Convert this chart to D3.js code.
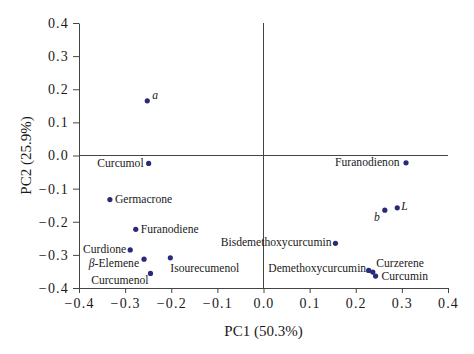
<!DOCTYPE html>
<html>
<head>
<meta charset="utf-8">
<script src="https://cdn.jsdelivr.net/npm/d3@7"></script>
<style>
  html, body { margin: 0; padding: 0; background: #fff; }
  svg { display: block; font-family: "Liberation Serif", "DejaVu Serif", serif; }
  .tick line, .domain { stroke: #444; }
  .pt-label { font-size: 11.6px; fill: #1a1a1a; }
  .axis-title { font-size: 15px; fill: #1a1a1a; }
</style>
</head>
<body>
<svg id="chart" width="474" height="354"></svg>
<script>
// ---- data ----
const names = ["a", "Curcumol", "Furanodienon", "Germacrone", "Furanodiene", "Curdione",
  "β-Elemene", "Isourecumenol", "Curcumenol", "b", "L", "Bisdemethoxycurcumin",
  "Demethoxycurcumin", "Curzerene", "Curcumin"];
const pc1 = [-0.252, -0.249, 0.309, -0.333, -0.277, -0.289, -0.259, -0.202, -0.245,
  0.263, 0.290, 0.156, 0.228, 0.237, 0.243];
const pc2 = [0.165, -0.024, -0.022, -0.133, -0.223, -0.285, -0.313, -0.309, -0.356,
  -0.165, -0.158, -0.265, -0.347, -0.352, -0.364];
const axisTicks = [-0.4, -0.3, -0.2, -0.1, 0.0, 0.1, 0.2, 0.3, 0.4];
const xTitle = "PC1 (50.3%)";
const yTitle = "PC2 (25.9%)";

// label placement (anchor, offset from the dot)
const place = {
  "a": ["start", 5, -2],
  "Curcumol": ["end", -5, 3.5],
  "Furanodienon": ["end", -6.5, 3],
  "Germacrone": ["start", 5, 3.5],
  "Furanodiene": ["start", 5, 3.5],
  "Curdione": ["end", -4, 3],
  "β-Elemene": ["end", -5, 7.5],
  "Isourecumenol": ["start", 0, 14],
  "Curcumenol": ["end", -2, 11],
  "b": ["middle", -8, 11],
  "L": ["start", 4, 2],
  "Bisdemethoxycurcumin": ["end", -4, 2.5],
  "Demethoxycurcumin": ["end", -2.5, 2],
  "Curzerene": ["start", 3.5, -5.2],
  "Curcumin": ["start", 6, 4]
};

const svg = d3.select("#chart");
const x = d3.scaleLinear().domain([-0.4, 0.4]).range([79, 448]);
const y = d3.scaleLinear().domain([-0.4, 0.4]).range([288, 23]);
const fmt = d3.format(".1f");
const serif = "'Liberation Serif', 'DejaVu Serif', serif";

// zero lines
svg.append("line")
  .attr("x1", x(-0.4)).attr("x2", x(0.4))
  .attr("y1", y(0)).attr("y2", y(0))
  .attr("stroke", "#444");
svg.append("line")
  .attr("x1", x(0)).attr("x2", x(0))
  .attr("y1", y(0.4)).attr("y2", y(-0.4))
  .attr("stroke", "#444");

// axes
const yAxis = svg.append("g")
  .attr("transform", `translate(${x(-0.4)},0)`)
  .call(d3.axisLeft(y).tickValues(axisTicks).tickFormat(fmt).tickSize(6).tickSizeOuter(0).tickPadding(4));
const xAxis = svg.append("g")
  .attr("transform", `translate(0,${y(-0.4)})`)
  .call(d3.axisBottom(x).tickValues(axisTicks).tickFormat(fmt).tickSize(5).tickSizeOuter(0).tickPadding(5));

[yAxis, xAxis].forEach(g => {
  g.attr("font-family", null).attr("font-size", 14);
  g.selectAll(".tick text")
    .attr("fill", "#1a1a1a")
    .style("font-family", serif)
    .style("letter-spacing", "1.2px");
});

svg.append("text")
  .attr("class", "axis-title")
  .attr("x", x(0)).attr("y", 336)
  .attr("text-anchor", "middle")
  .text(xTitle);
svg.append("text")
  .attr("class", "axis-title")
  .attr("transform", `translate(31,${y(0)}) rotate(-90)`)
  .attr("text-anchor", "middle")
  .text(yTitle);

// points
const pts = names.map((n, i) => ({ name: n, x: pc1[i], y: pc2[i] }));
svg.selectAll("circle.pt")
  .data(pts)
  .enter().append("circle")
  .attr("class", "pt")
  .attr("cx", d => x(d.x))
  .attr("cy", d => y(d.y))
  .attr("r", 2.6)
  .attr("fill", "#2a2a78");

// labels
const lab = svg.selectAll("text.pt-label")
  .data(pts)
  .enter().append("text")
  .attr("class", "pt-label")
  .attr("x", d => x(d.x) + place[d.name][1])
  .attr("y", d => y(d.y) + place[d.name][2])
  .attr("text-anchor", d => place[d.name][0]);

lab.each(function(d) {
  const t = d3.select(this);
  if (d.name.length === 1) {
    t.attr("font-style", "italic").text(d.name);
  } else if (d.name.startsWith("β")) {
    t.append("tspan").attr("font-style", "italic").text("β");
    t.append("tspan").text(d.name.slice(1));
  } else {
    t.text(d.name);
  }
});
</script>
</body>
</html>
